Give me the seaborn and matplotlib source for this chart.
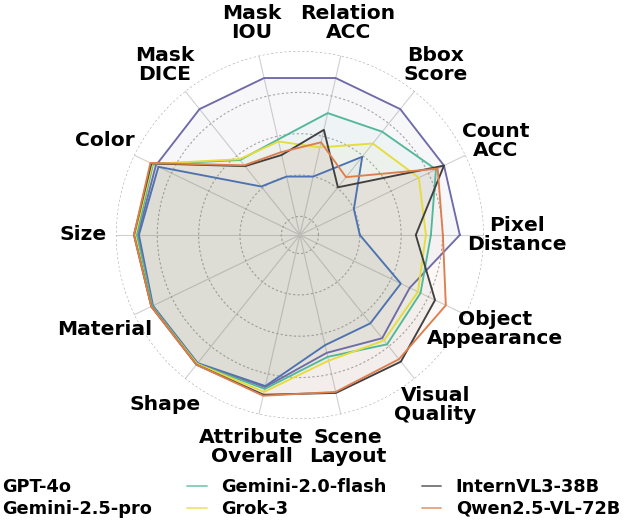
import numpy as np
import pandas as pd
import matplotlib
matplotlib.use("Agg")
import matplotlib.pyplot as plt
import seaborn as sns

# ---------------- data ----------------
categories = ["Pixel\nDistance", "Count\nACC", "Bbox\nScore", "Relation\nACC",
              "Mask\nIOU", "Mask\nDICE", "Color", "Size", "Material", "Shape",
              "Attribute\nOverall", "Scene\nLayout", "Visual\nQuality",
              "Object\nAppearance"]

models = ["GPT-4o", "Gemini-2.5-pro", "Gemini-2.0-flash", "Grok-3",
          "InternVL3-38B", "Qwen2.5-VL-72B"]

gpt4o = [0.400, 0.400, 0.594, 0.400, 0.400, 0.410, 0.870, 0.889, 0.899, 0.903,
         0.860, 0.657, 0.657, 0.652]
gemini25pro = [0.884, 0.884, 0.889, 0.889, 0.889, 0.889, 0.884, 0.894, 0.903,
               0.908, 0.865, 0.695, 0.749, 0.700]
gemini20flash = [0.744, 0.841, 0.749, 0.715, 0.584, 0.574, 0.899, 0.899, 0.903,
                 0.908, 0.874, 0.715, 0.787, 0.758]
grok3 = [0.720, 0.749, 0.676, 0.545, 0.574, 0.579, 0.903, 0.908, 0.908, 0.908,
         0.889, 0.734, 0.763, 0.744]
internvl3 = [0.671, 0.884, 0.405, 0.632, 0.507, 0.536, 0.908, 0.913, 0.908,
             0.913, 0.903, 0.894, 0.894, 0.836]
qwen25vl = [0.802, 0.850, 0.468, 0.570, 0.521, 0.541, 0.913, 0.913, 0.908,
            0.913, 0.908, 0.889, 0.879, 0.894]

series = [gpt4o, gemini25pro, gemini20flash, grok3, internvl3, qwen25vl]

colors = {"GPT-4o": "#4c72b0", "Gemini-2.5-pro": "#6f6aa8",
          "Gemini-2.0-flash": "#52b89a", "Grok-3": "#e6dc3c",
          "InternVL3-38B": "#404040", "Qwen2.5-VL-72B": "#dd7e4e"}

# ---------------- plot ----------------
sns.set_theme(style="white")
plt.rcParams['font.family'] = ['DejaVu Sans']

fig = plt.figure(figsize=(6.32, 5.21), dpi=100)
ax = fig.add_axes([0.1835, 0.196, 0.582, 0.706], projection='polar')

n = len(categories)
angles = np.linspace(0, 2 * np.pi, n, endpoint=False)
angles_closed = list(angles) + [angles[0] + 2 * np.pi]

rows = []
for m, vals in zip(models, series):
    for a, v in zip(angles_closed, list(vals) + [vals[0]]):
        rows.append({"model": m, "angle": a, "score": v})
df = pd.DataFrame(rows)

sns.lineplot(data=df, x="angle", y="score", hue="model", hue_order=models,
             palette=colors, sort=False, estimator=None, linewidth=1.35, ax=ax)

for m, vals in zip(models, series):
    ax.fill(angles_closed, list(vals) + [vals[0]], color=colors[m], alpha=0.05,
            linewidth=0)

ax.set_ylim(0.11, 1.0)
ax.set_yticks([0.2, 0.4, 0.6, 0.8, 1.0])
ax.set_yticklabels([])
ax.set_xticks(angles)
ax.set_xticklabels([])
ax.set_xlabel("")
ax.set_ylabel("")
ax.xaxis.grid(True, color="#d0d0d0", linewidth=0.8, linestyle="-")
ax.yaxis.grid(True, color="#a8a8a8", linewidth=0.8, linestyle=(0, (2, 2)))
ax.spines['polar'].set_visible(False)
ax.tick_params(axis='both', length=0)

for a, lab in zip(angles, categories):
    ax.text(a, 1.16, lab, ha="center", va="center", fontsize=14.6,
            fontweight="bold", color="black", linespacing=1.0)

handles, labels = ax.get_legend_handles_labels()
if ax.get_legend() is not None:
    ax.get_legend().remove()
leg = fig.legend(handles, labels, loc="upper left",
                 bbox_to_anchor=(-0.0506, 0.082), ncol=3, frameon=False,
                 prop={"weight": "bold", "size": 12.8}, handlelength=1.1,
                 handletextpad=0.8, columnspacing=2.0, labelspacing=0.2,
                 borderaxespad=0, borderpad=0)
for t in leg.get_texts():
    t.set_color("black")
for h in leg.get_lines():
    h.set_alpha(0.7)

fig.savefig("out.png", dpi=100)
